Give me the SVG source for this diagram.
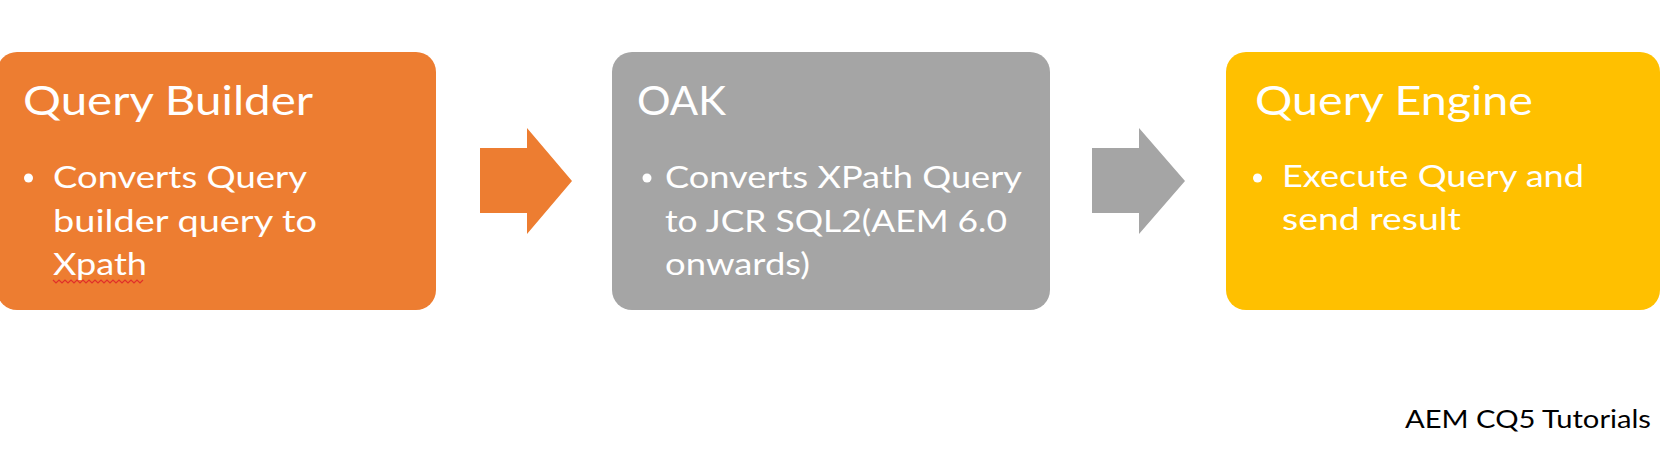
<svg xmlns="http://www.w3.org/2000/svg" width="1668" height="459" viewBox="0 0 1668 459">
<style>
.title{font-family:Lato,"Liberation Sans",sans-serif;font-size:41px;fill:#ffffff}
.body{font-family:Lato,"Liberation Sans",sans-serif;font-size:30px;fill:#ffffff}
.foot{font-family:Lato,"Liberation Sans",sans-serif;font-size:25px;fill:#000000}
.dot{fill:#ffffff}
</style>
<rect width="1668" height="459" fill="#ffffff"/>
<g id="connectors">
<polygon points="480,148 527,148 527,128 572,181 527,234 527,213 480,213" fill="#ED7D31"/>
<polygon points="1092,148 1139,148 1139,128 1185,181 1139,234 1139,213 1092,213" fill="#A5A5A5"/>
</g>
<g id="query-builder">
<rect x="-3" y="52" width="439" height="258" rx="20" fill="#ED7D31"/>
<text class="title" x="23" y="115" textLength="290" lengthAdjust="spacingAndGlyphs">Query Builder</text>
<circle class="dot" cx="28.5" cy="178" r="4.5"/>
<text class="body" x="53" y="188" textLength="254" lengthAdjust="spacingAndGlyphs">Converts Query</text>
<text class="body" x="53" y="232" textLength="264" lengthAdjust="spacingAndGlyphs">builder query to</text>
<text class="body" x="53" y="275" textLength="94" lengthAdjust="spacingAndGlyphs">Xpath</text>
<path d="M53,280 l3,3 l3,-3 l3,3 l3,-3 l3,3 l3,-3 l3,3 l3,-3 l3,3 l3,-3 l3,3 l3,-3 l3,3 l3,-3 l3,3 l3,-3 l3,3 l3,-3 l3,3 l3,-3 l3,3 l3,-3 l3,3 l3,-3 l3,3 l3,-3 l3,3 l3,-3 l3,3 l3,-3" fill="none" stroke="#E0302A" stroke-width="1.2"/>
</g>
<g id="oak">
<rect x="612" y="52" width="438" height="258" rx="20" fill="#A5A5A5"/>
<text class="title" x="637" y="115" textLength="89" lengthAdjust="spacingAndGlyphs">OAK</text>
<circle class="dot" cx="647" cy="178" r="4.5"/>
<text class="body" x="665" y="188" textLength="357" lengthAdjust="spacingAndGlyphs">Converts XPath Query</text>
<text class="body" x="665" y="232" textLength="342" lengthAdjust="spacingAndGlyphs">to JCR SQL2(AEM 6.0</text>
<text class="body" x="665" y="275" textLength="145" lengthAdjust="spacingAndGlyphs">onwards)</text>
</g>
<g id="query-engine">
<rect x="1226" y="52" width="434" height="258" rx="20" fill="#FFC000"/>
<text class="title" x="1255" y="115" textLength="278" lengthAdjust="spacingAndGlyphs">Query Engine</text>
<circle class="dot" cx="1257.5" cy="178" r="4.5"/>
<text class="body" x="1282" y="187" textLength="302" lengthAdjust="spacingAndGlyphs">Execute Query and</text>
<text class="body" x="1282" y="230" textLength="179" lengthAdjust="spacingAndGlyphs">send result</text>
</g>
<text class="foot" x="1405" y="428" textLength="246" lengthAdjust="spacingAndGlyphs">AEM CQ5 Tutorials</text>
</svg>
